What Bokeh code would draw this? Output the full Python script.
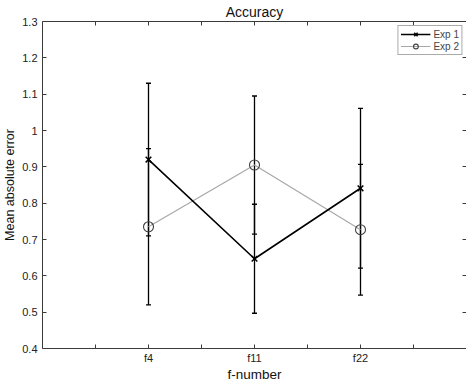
from bokeh.plotting import figure
from bokeh.models import (ColumnDataSource, Whisker, TeeHead, FixedTicker, LinearAxis,
                          Legend, LegendItem, Range1d)
from bokeh.embed import file_html
from bokeh.resources import INLINE

# ---- data ----
categories = ["f4", "f11", "f22"]
exp1_mean = [0.92, 0.647, 0.841]
exp1_err = [0.21, 0.15, 0.22]
exp2_mean = [0.735, 0.905, 0.727]
exp2_err = [0.215, 0.19, 0.18]
y_ticks = [0.4, 0.5, 0.6, 0.7, 0.8, 0.9, 1.0, 1.1, 1.2, 1.3]
y_tick_labels = ["0.4", "0.5", "0.6", "0.7", "0.8", "0.9", "1", "1.1", "1.2", "1.3"]
x_ticks = [0.5, 1, 1.5, 2, 2.5, 3, 3.5]

FONT = "Liberation Sans"
xpos = [i + 1 for i in range(len(categories))]

src1 = ColumnDataSource(dict(x=xpos, y=exp1_mean,
                             lo=[m - e for m, e in zip(exp1_mean, exp1_err)],
                             hi=[m + e for m, e in zip(exp1_mean, exp1_err)]))
src2 = ColumnDataSource(dict(x=xpos, y=exp2_mean,
                             lo=[m - e for m, e in zip(exp2_mean, exp2_err)],
                             hi=[m + e for m, e in zip(exp2_mean, exp2_err)]))

p = figure(width=466, height=384, x_range=Range1d(0, len(categories) + 1),
           y_range=Range1d(y_ticks[0], y_ticks[-1]),
           output_backend="svg", toolbar_location=None,
           min_border_left=0, min_border_right=0, min_border_top=0, min_border_bottom=0)
p.grid.visible = False
p.outline_line_color = None
p.background_fill_color = "white"

p.title.text = "Accuracy"
p.title.align = "center"
p.title.text_font = FONT
p.title.text_font_size = "14px"
p.title.text_font_style = "normal"
p.title.text_color = "#111111"
p.title.standoff = 3

AX = "#3a3a3a"
bottom = p.xaxis[0]
left = p.yaxis[0]

x_over = {t: "" for t in x_ticks}
for xp, c in zip(xpos, categories):
    x_over[xp] = c
y_over = {t: l for t, l in zip(y_ticks, y_tick_labels)}

bottom.ticker = FixedTicker(ticks=x_ticks)
bottom.major_label_overrides = x_over
left.ticker = FixedTicker(ticks=y_ticks)
left.major_label_overrides = y_over

top = LinearAxis(ticker=FixedTicker(ticks=x_ticks),
                 major_label_overrides={t: "" for t in x_ticks}, major_label_standoff=0)
right = LinearAxis(ticker=FixedTicker(ticks=y_ticks),
                   major_label_overrides={t: "" for t in y_ticks}, major_label_standoff=0)
p.add_layout(top, "above")
p.add_layout(right, "right")

for ax in [bottom, left, top, right]:
    ax.axis_line_color = AX
    ax.axis_line_width = 1
    ax.major_tick_line_color = AX
    ax.major_tick_in = 4
    ax.major_tick_out = 0
    ax.minor_tick_line_color = None
    ax.major_label_text_font = FONT
    ax.major_label_text_color = "#222222"
for ax in [bottom, left]:
    ax.major_label_text_font_size = "11px"
for ax in [top, right]:
    ax.major_label_text_font_size = "1px"
bottom.major_label_standoff = 3
left.major_label_standoff = 5

bottom.axis_label = "f-number"
bottom.axis_label_text_font = FONT
bottom.axis_label_text_font_size = "13.5px"
bottom.axis_label_text_font_style = "normal"
bottom.axis_label_text_color = "#111111"
bottom.axis_label_standoff = 0

left.axis_label = "Mean absolute error"
left.axis_label_text_font = FONT
left.axis_label_text_font_size = "12.5px"
left.axis_label_text_font_style = "normal"
left.axis_label_text_color = "#111111"
left.axis_label_standoff = 2

# error bars
for s in (src1, src2):
    w = Whisker(source=s, base="x", upper="hi", lower="lo", line_color="black", line_width=1.3,
                upper_head=TeeHead(size=5, line_color="black", line_width=1.3),
                lower_head=TeeHead(size=5, line_color="black", line_width=1.3))
    p.add_layout(w)

l2 = p.line("x", "y", source=src2, line_color="#a8a8a8", line_width=1.2)
s2 = p.scatter("x", "y", source=src2, marker="circle", size=10, fill_color=None,
               line_color="#404040", line_width=1.1)
l1 = p.line("x", "y", source=src1, line_color="black", line_width=1.6)
s1 = p.scatter("x", "y", source=src1, marker="x", size=8, line_color="black", line_width=1.5)

legend = Legend(items=[LegendItem(label="Exp 1", renderers=[l1, s1]),
                       LegendItem(label="Exp 2", renderers=[l2, s2])],
                location="top_right", margin=4, padding=2, spacing=0,
                glyph_width=30, glyph_height=12, label_height=12, label_standoff=3,
                label_text_font=FONT, label_text_font_size="10px",
                border_line_color="#555555", border_line_width=1,
                background_fill_color="white", background_fill_alpha=1)
p.add_layout(legend)

open("out.html", "w").write(file_html(p, INLINE))
